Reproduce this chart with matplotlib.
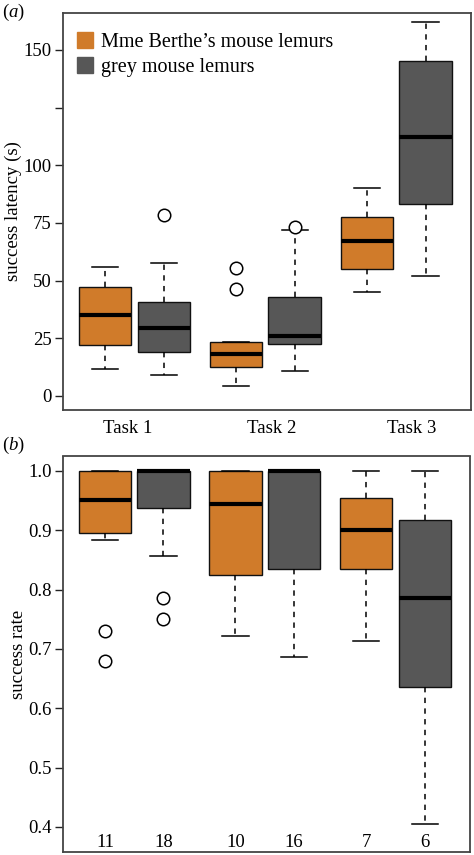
import matplotlib
matplotlib.use("Agg")
import matplotlib.pyplot as plt
from matplotlib.lines import Line2D

plt.rcParams['font.family'] = ['Liberation Serif', 'DejaVu Serif']
plt.rcParams['mathtext.fontset'] = 'custom'
plt.rcParams['mathtext.rm'] = 'Liberation Serif'
plt.rcParams['mathtext.it'] = 'Liberation Serif:italic'

# ---------------- data ----------------
species = ["Mme Berthe\u2019s mouse lemurs", "grey mouse lemurs"]
tasks = ["Task 1", "Task 2", "Task 3"]
colors = ["#D07B2A", "#575757"]

# panel (a): success latency (s) -- order: T1 Mme, T1 grey, T2 Mme, T2 grey, T3 Mme, T3 grey
lat_whislo = [11.6, 9.0, 4.5, 11.0, 45.1, 52.1]
lat_q1 = [22.0, 18.9, 12.7, 22.7, 55.2, 83.2]
lat_med = [35.2, 29.5, 18.2, 25.9, 67.3, 112.1]
lat_q3 = [47.4, 40.9, 23.4, 42.8, 77.4, 145.3]
lat_whishi = [56.0, 57.5, 23.4, 72.0, 90.3, 162.1]
lat_fliers = [[], [78.5], [46.5, 55.3], [73.4], [], []]

# panel (b): success rate
rate_whislo = [0.884, 0.857, 0.722, 0.687, 0.714, 0.4055]
rate_q1 = [0.896, 0.938, 0.824, 0.834, 0.834, 0.636]
rate_med = [0.951, 1.0, 0.945, 1.0, 0.9006, 0.786]
rate_q3 = [1.0, 1.0, 1.0, 1.0, 0.9545, 0.917]
rate_whishi = [1.0, 1.0, 1.0, 1.0, 1.0, 1.0]
rate_fliers = [[0.731, 0.680], [0.786, 0.750], [], [], [], []]

sample_sizes = [11, 18, 10, 16, 7, 6]

lat_ticks = [0, 25, 50, 75, 100, 125, 150]
lat_ticklabels = ["0", "25", "50", "75", "100", "", "150"]
rate_ticks = [0.4, 0.5, 0.6, 0.7, 0.8, 0.9, 1.0]

# ---------------- layout ----------------
W, H = 474, 855
fig = plt.figure(figsize=(W / 100, H / 100), dpi=100)
FS = 13.5

positions = [1, 2, 3.23, 4.23, 5.46, 6.46]
task_label_x = [1.39, 3.845, 6.23]
box_w = 0.89


def make_stats(lo, q1, med, q3, hi, fl):
    return [dict(whislo=a, q1=b, med=c, q3=d, whishi=e, fliers=f)
            for a, b, c, d, e, f in zip(lo, q1, med, q3, hi, fl)]


def draw(ax, stats):
    bp = ax.bxp(stats, positions=positions, widths=box_w, patch_artist=True,
                showfliers=True, manage_ticks=False,
                boxprops=dict(edgecolor="#111111", linewidth=1.0),
                medianprops=dict(color="black", linewidth=3.0, solid_capstyle="butt"),
                whiskerprops=dict(color="black", linewidth=1.1, linestyle=(0, (3.5, 3.5))),
                capprops=dict(color="black", linewidth=1.1),
                capwidths=box_w * 0.5,
                flierprops=dict(marker="o", markersize=9, markerfacecolor="white",
                                markeredgecolor="black", markeredgewidth=1.1))
    for i, patch in enumerate(bp["boxes"]):
        patch.set_facecolor(colors[i % 2])
    for sp in ax.spines.values():
        sp.set_color("#444444")
        sp.set_linewidth(1.3)
    ax.tick_params(axis="y", direction="out", length=6, width=1.0, labelsize=FS,
                   color="#222222", pad=2)
    ax.set_xlim(0.284, 7.235)


# panel (a)
axa = fig.add_axes([63 / W, 1 - 410 / H, 408 / W, 397 / H])
draw(axa, make_stats(lat_whislo, lat_q1, lat_med, lat_q3, lat_whishi, lat_fliers))
axa.set_ylim(-6.07, 166.0)
axa.set_yticks(lat_ticks)
axa.set_yticklabels(lat_ticklabels)
axa.set_xticks(task_label_x)
axa.set_xticklabels(tasks, fontsize=FS)
axa.tick_params(axis="x", length=0, pad=7)
axa.set_ylabel("success latency (s)", fontsize=FS, labelpad=1)

handles = [Line2D([], [], linestyle="none", marker="s", markersize=11,
                  markerfacecolor=c, markeredgecolor=c) for c in colors]
axa.legend(handles, species, loc="upper left", bbox_to_anchor=(0.0, 0.985),
           frameon=False, fontsize=14.5, handlelength=0.8, handletextpad=0.4,
           labelspacing=0.3, borderaxespad=0.3)

fig.text(2 / W, 1 - 12 / H, r"$(\mathit{a})$", fontsize=FS, va="center", ha="left")

# panel (b)
axb = fig.add_axes([63 / W, 1 - 852 / H, 407 / W, 395.5 / H])
draw(axb, make_stats(rate_whislo, rate_q1, rate_med, rate_q3, rate_whishi, rate_fliers))
axb.set_ylim(0.3578, 1.0244)
axb.set_yticks(rate_ticks)
axb.set_yticklabels([f"{t:.1f}" for t in rate_ticks])
axb.set_xticks([])
axb.set_ylabel("success rate", fontsize=FS, labelpad=1)
for x, n in zip(positions, sample_sizes):
    axb.text(x, 0.3735, str(n), ha="center", va="center", fontsize=FS)

fig.text(2 / W, 1 - 445 / H, r"$(\mathit{b})$", fontsize=FS, va="center", ha="left")

fig.savefig("out.png", dpi=100)
